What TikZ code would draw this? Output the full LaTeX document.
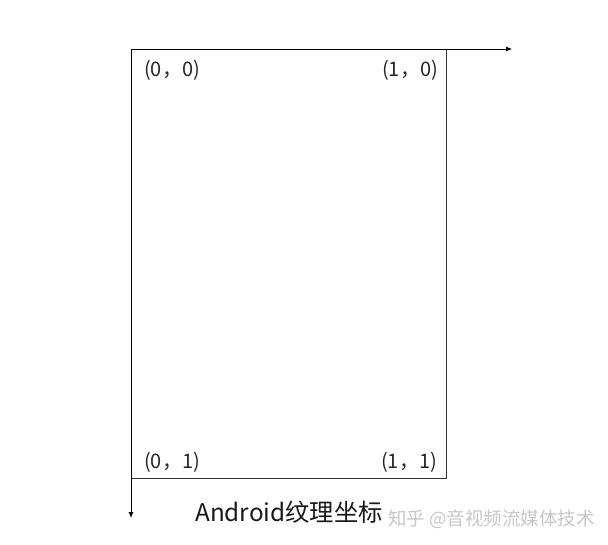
\documentclass[tikz,border=0pt]{standalone}
\usepackage{fontspec}
\setmainfont{Noto Sans CJK SC}
\usetikzlibrary{arrows.meta}
\begin{document}
\begin{tikzpicture}[x=1pt,y=-1pt,
  axis/.style={draw=black,line width=0.8pt,-{Latex[length=6pt,width=5pt]}},
  frame/.style={draw=black!80,line width=0.8pt},
  coord/.style={font=\fontsize{20}{24}\selectfont,text=black!85,inner sep=0pt},
  captext/.style={font=\fontsize{24.3}{28}\selectfont,text=black!90,inner sep=0pt},
  wm/.style={font=\fontsize{18.5}{22}\selectfont,text=black!22,inner sep=0pt}]
\useasboundingbox (0,0) rectangle (608,545);
\coordinate (o) at (131,49);
\coordinate (xe) at (512,49);
\coordinate (ye) at (131,518);
\draw[frame] (131,49) rectangle (446,478);
\draw[axis] (o) -- (xe);
\draw[axis] (o) -- (ye);
\node[coord] (p00) at (172,70) {(0，0)};
\node[coord] (p10) at (410,70) {(1，0)};
\node[coord] (p01) at (172,462) {(0，1)};
\node[coord] (p11) at (409,462) {(1，1)};
\node[captext] (title) at (289,512) {Android纹理坐标};
\node[wm,anchor=west] (mark) at (388,519) {知乎 @音视频流媒体技术};
\end{tikzpicture}
\end{document}
